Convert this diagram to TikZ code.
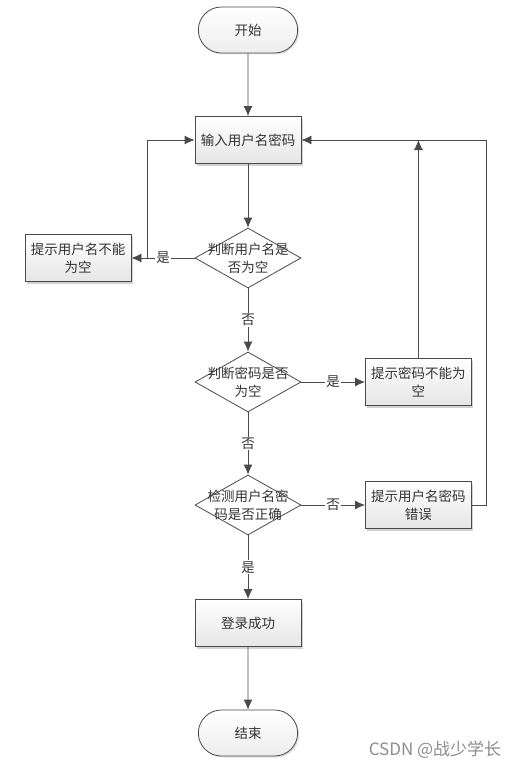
\documentclass[tikz,border=0pt]{standalone}
\usepackage{fontspec}
\usepackage{tikz}
\usetikzlibrary{positioning, shapes, shapes.geometric, shapes.misc, calc, arrows.meta, shadows}
\newfontfamily\cjk{Noto Sans CJK SC}
\definecolor{lineg}{rgb}{0.29, 0.29, 0.29}
\definecolor{boxg}{rgb}{0.90, 0.90, 0.90}

\begin{document}
\begin{tikzpicture}[x=1pt, y=-1pt, every node/.style={font=\cjk\fontsize{13.5}{18}\selectfont, text=black!80}]
		\tikzstyle{box}=[draw=lineg, line width=0.8pt, minimum height=47pt, minimum width=106pt, align=center, top color=white, bottom color=boxg, drop shadow={shadow xshift=2pt, shadow yshift=-2pt, fill=black!35}]
		\tikzstyle{term}=[rounded rectangle, draw=lineg, line width=0.8pt, minimum height=46pt, minimum width=106pt, top color=white, bottom color=boxg!70, drop shadow={shadow xshift=1.5pt, shadow yshift=-1.5pt, fill=black!25}]
		\tikzstyle{judge}=[diamond, draw=lineg, line width=0.8pt, minimum height=60pt, minimum width=106pt, inner sep=0pt, fill=white]
		\tikzstyle{conn}=[draw=lineg, line width=0.8pt, -{Latex[length=10pt, width=9pt]}]
		\tikzstyle{yn}=[fill=white, inner sep=1pt]
		
		\useasboundingbox (0,0) rectangle (519,768);
		
		%% main column
		\node [term] (start) at (248,30) {开始};
		\node [box] (input) at (248,140) {输入用户名密码};
		\node [judge, label={[align=center]center:判断用户名是\\否为空}] (J1) at (248,258) {};
		\node [judge, label={[align=center]center:判断密码是否\\为空}] (J2) at (248,382) {};
		\node [judge, label={[align=center]center:检测用户名密\\码是否正确}] (J3) at (248,505) {};
		\node [box] (ok) at (248,623) {登录成功};
		\node [term] (end) at (248,733) {结束};
		
		%% side boxes
		\node [box] (T1) at (78,258) {提示用户名不能\\为空};
		\node [right=117pt of J2.center, box] (T2) {提示密码不能为\\空};
		\node [right=117pt of J3.center, box] (T3) {提示用户名密码\\错误};
		
		\node [text=black!45, font=\fontsize{17}{20}\selectfont\cjk] (wm) at (435,750) {CSDN @战少学长};
		
		%% connectors
		\draw [conn] (start) -- (input);
		\draw [conn] (input) -- (J1);
		\draw [conn] (J1.west) -- node[yn] {是} (T1.east);
		\draw [conn] (T1.east) ++(16,0) |- (input.west);
		\draw [conn] (J1.south) -- node[yn] {否} (J2.north);
		\draw [conn] (J2.east) -- node[yn] {是} (T2.west);
		\draw [conn] (T2.north) -- (T2.north |- input.east);
		\draw [conn] (J2.south) -- node[yn] {否} (J3.north);
		\draw [conn] (J3.east) -- node[yn] {否} (T3.west);
		\draw [conn] (T3.east) -- ++(15,0) |- (input.east);
		\draw [conn] (J3.south) -- node[yn] {是} (ok.north);
		\draw [conn] (ok) -- (end);
		
\end{tikzpicture}
\end{document}
